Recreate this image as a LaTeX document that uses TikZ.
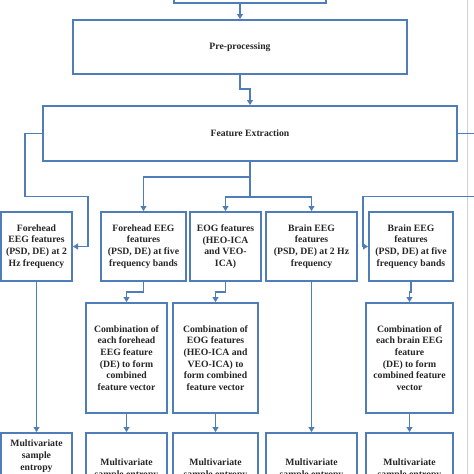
\documentclass[tikz,border=0pt]{standalone}
\usepackage{fontspec}
\setmainfont{Liberation Serif}
\usetikzlibrary{arrows.meta}
\definecolor{lineblue}{RGB}{79,125,185}
\begin{document}
\begin{tikzpicture}[x=1pt,y=-1pt,
  box/.style={draw=lineblue,line width=2pt,fill=white,inner sep=0pt,align=center,
    font=\fontsize{9.7}{11.7}\selectfont\bfseries,text=black!85},
  lbl/.style={inner sep=0pt,align=center,font=\fontsize{9.7}{11.7}\selectfont\bfseries,text=black!85},
  conn/.style={draw=lineblue,line width=1.8pt},
  arr/.style={conn,-{Triangle[width=6pt,length=5pt]}}]
\useasboundingbox (0,0) rectangle (474,474);
\clip (0,0) rectangle (474,474);
\fill[white] (0,0) rectangle (474,474);
\draw[black!18,line width=1pt] (467,-5) -- (467,480);
% top row
\node[box,minimum width=152pt,minimum height=23pt] (top) at (250,-8.5) {};
\node[box,minimum width=334pt,minimum height=54pt] (pre) at (240,47) {Pre-processing};
\node[box,minimum width=414pt,minimum height=55pt] (fe) at (250,133.5) {Feature Extraction};
% row 2
\node[box,minimum width=71pt,minimum height=69pt] (r2a) at (36.5,246.5) {Forehead\\EEG features\\(PSD, DE) at 2\\Hz frequency};
\node[box,minimum width=85pt,minimum height=69pt] (r2b) at (143.5,246.5) {Forehead EEG\\features\\(PSD, DE) at five\\frequency bands};
\node[box,minimum width=71pt,minimum height=69pt] (r2c) at (225.5,246.5) {EOG features\\(HEO-ICA\\and VEO-\\ICA)};
\node[box,minimum width=91pt,minimum height=69pt] (r2d) at (311.5,246.5) {Brain EEG\\features\\(PSD, DE) at 2 Hz\\frequency};
\node[box,minimum width=84pt,minimum height=69pt] (r2e) at (411,246.5) {Brain EEG\\features\\(PSD, DE) at five\\frequency bands};
% row 3
\node[box,minimum width=81pt,minimum height=110pt] (r3a) at (126.5,358) {Combination of\\each forehead\\EEG feature\\(DE) to form\\combined\\feature vector};
\node[box,minimum width=85pt,minimum height=110pt] (r3b) at (215.5,358) {Combination of\\EOG features\\(HEO-ICA and\\VEO-ICA) to\\form combined\\feature vector};
\node[box,minimum width=87pt,minimum height=110pt] (r3c) at (409.5,358) {Combination of\\each brain EEG\\feature\\(DE) to form\\combined feature\\vector};
% row 4
\node[box,anchor=north,minimum width=71pt,minimum height=90pt] (r4a) at (36.5,432) {};
\node[box,anchor=north,minimum width=81pt,minimum height=90pt] (r4b) at (126.5,432) {};
\node[box,anchor=north,minimum width=85pt,minimum height=90pt] (r4c) at (215.5,432) {};
\node[box,anchor=north,minimum width=91pt,minimum height=90pt] (r4d) at (311.5,432) {};
\node[box,anchor=north,minimum width=87pt,minimum height=90pt] (r4e) at (409.5,432) {};
\node[lbl,anchor=north] (t4a) at (36.5,440) {Multivariate\\sample\\entropy};
\node[lbl,anchor=north] (t4b) at (126.5,459) {Multivariate\\sample entropy};
\node[lbl,anchor=north] (t4c) at (215.5,459) {Multivariate\\sample entropy};
\node[lbl,anchor=north] (t4d) at (311.5,459) {Multivariate\\sample entropy};
\node[lbl,anchor=north] (t4e) at (409.5,459) {Multivariate\\sample entropy};
% connectors
\draw[arr] (pre.north |- top.south) -- (pre.north);
\draw[arr] (pre.south) -- ++(0,14) -| (fe.north);
\draw[arr] (fe.west) -- ++(-17,0) -- ++(0,63) -- ++(63,0) |- (r2a.east);
\draw[arr] (fe.east) -- ++(25,0) -- ++(0,63) -- ++(-120,0) |- (r2e.west);
\draw[arr] (fe.south) -- ++(0,15) coordinate (j1) -| (r2b.north);
\draw[conn] (j1) -- ++(0,20) coordinate (j2);
\draw[arr] (j2) -| (r2c.north);
\draw[arr] (j2) -| (r2d.north);
\draw[arr] (r2b.south) -- ++(0,10) -| (r3a.north);
\draw[arr] (r2c.south) -- ++(0,10) -| (r3b.north);
\draw[arr] (r2e.south) -- ++(0,10) -| (r3c.north);
\draw[arr] (r2a.south) -- (r4a.north);
\draw[arr] (r2d.south) -- (r4d.north);
\draw[arr] (r3a.south) -- (r4b.north);
\draw[arr] (r3b.south) -- (r4c.north);
\draw[arr] (r3c.south) -- (r4e.north);
\end{tikzpicture}
\end{document}
